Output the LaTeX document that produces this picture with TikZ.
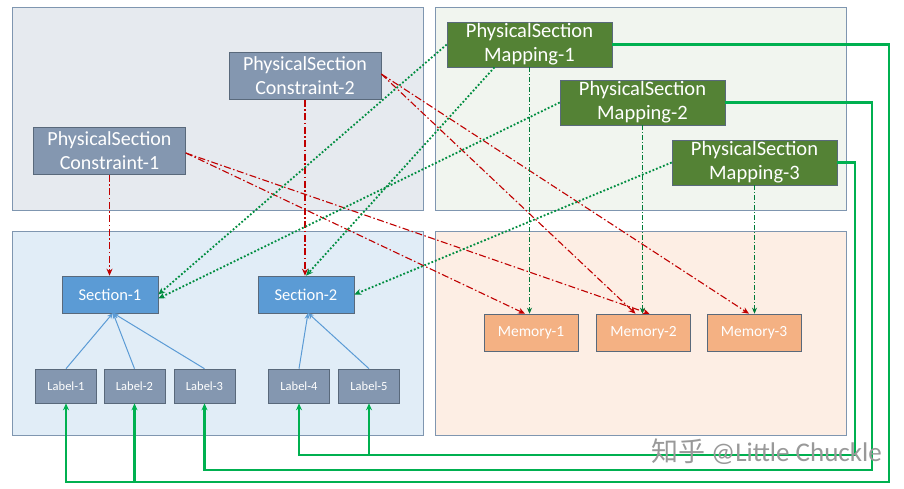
\documentclass[tikz,border=0pt]{standalone}
\usepackage{fontspec}
\setmainfont{Carlito}
\newfontfamily\cjk{Noto Sans CJK SC}
\usetikzlibrary{arrows.meta}
\definecolor{pbord}{HTML}{7F96B0}
\definecolor{gcon}{HTML}{8497B0}
\definecolor{gmap}{HTML}{548235}
\definecolor{bsec}{HTML}{5B9BD5}
\definecolor{omem}{HTML}{F4B183}
\definecolor{glin}{HTML}{00B050}
\definecolor{rlin}{HTML}{C00000}
\begin{document}
\begin{tikzpicture}[x=1pt,y=-1pt,
 panel/.style={draw=pbord,line width=0.8pt},
 box/.style={draw=pbord!70!black,line width=0.6pt,text=white,align=center,inner sep=0pt},
 con/.style={box,fill=gcon,minimum width=152pt,minimum height=47pt,font=\fontsize{20}{24}\selectfont},
 map/.style={box,fill=gmap,minimum width=165pt,minimum height=45pt,font=\fontsize{20.5}{24}\selectfont},
 sec/.style={box,fill=bsec,minimum width=96pt,minimum height=37pt,font=\fontsize{16.5}{18}\selectfont},
 mem/.style={box,fill=omem,minimum width=94pt,minimum height=37pt,font=\fontsize{15.5}{17}\selectfont},
 lab/.style={box,fill=gcon,minimum width=61pt,minimum height=34pt,font=\fontsize{12.5}{14}\selectfont},
 red/.style={rlin,line width=1.1pt,dash pattern=on 7pt off 2.5pt on 1.5pt off 2.5pt,-{Stealth[length=7pt,width=6pt]}},
 gdot/.style={glin!80!black,line width=1.8pt,dotted,-{Stealth[length=7pt,width=6pt]}},
 gdd/.style={glin!70!black,line width=0.7pt,dash pattern=on 5pt off 2pt on 1pt off 2pt,-{Stealth[length=6pt,width=5pt]}},
 gsol/.style={glin,line width=2.2pt},
 blu/.style={bsec,line width=1pt,-{Stealth[open,length=6pt,width=5pt]}}]
\useasboundingbox (0,0) rectangle (904,489);
\fill[white] (0,0) rectangle (904,489);
\draw[panel,fill=gcon!20] (12,7) rectangle (423,210);
\draw[panel,fill=gmap!8] (435,7) rectangle (846,210);
\draw[panel,fill=bsec!18] (12,231) rectangle (423,435);
\draw[panel,fill=omem!22] (435,231) rectangle (846,435);

\node[con] (c1) at (109.5,151) {PhysicalSection\\Constraint-1};
\node[con] (c2) at (305,76) {PhysicalSection\\Constraint-2};
\node[map] (m1) at (529.5,44.5) {PhysicalSection\\Mapping-1};
\node[map] (m2) at (642.5,102.5) {PhysicalSection\\Mapping-2};
\node[map] (m3) at (754.5,162.5) {PhysicalSection\\Mapping-3};
\node[sec] (s1) at (110,294.5) {Section-1};
\node[sec] (s2) at (306,294.5) {Section-2};
\node[mem] (y1) at (531,332.5) {Memory-1};
\node[mem] (y2) at (643.5,332.5) {Memory-2};
\node[mem] (y3) at (754,332.5) {Memory-3};
\node[lab] (l1) at (66,386) {Label-1};
\node[lab] (l2) at (134.5,386) {Label-2};
\node[lab] (l3) at (204.5,386) {Label-3};
\node[lab] (l4) at (299,386) {Label-4};
\node[lab] (l5) at (369,386) {Label-5};

% blue
\draw[blu] (l1.north) -- (113,313);
\draw[blu] (l2.north) -- (113,313);
\draw[blu] (l3.north) -- (113,313);
\draw[blu] (l4.north) -- (308,313);
\draw[blu] (l5.north) -- (308,313);

% red
\draw[red] (c1.south) -- (s1.north -| c1.south);
\draw[red] (c2.south) -- (s2.north -| c2.south);
\draw[red] (c1.east) ++(0,2) -- ([xshift=-6pt]y1.north);
\draw[red] (c1.east) ++(0,2) -- ([xshift=6pt]y2.north);
\draw[red] (c2.east) ++(0,-2) -- ([xshift=-8pt]y2.north);
\draw[red] (c2.east) ++(0,-2) -- ([xshift=-5pt]y3.north);

% green dash-dot
\draw[gdd] (m1.south) -- (y1.north -| m1.south);
\draw[gdd] (m2.south) -- (y2.north -| m2.south);
\draw[gdd] (m3.south) -- (y3.north -| m3.south);

% green dotted
\draw[gdot] (m1.west) -- (s1.east);
\draw[gdot] ([xshift=-35pt]m1.south) -- (s2.north);
\draw[gdot] (m2.west) -- ([yshift=-4pt]s1.east);
\draw[gdot] (m3.west) -- (s2.east);

% green solid
\coordinate (j1) at (134.5,482);
\coordinate (j4) at (369,455);
\draw[gsol] (m1.east) -| (889,482) -- (j1);
\draw[gsol,-{Stealth[length=7pt,width=6pt]}] (j1) -| (l1.south);
\draw[gsol,-{Stealth[length=7pt,width=6pt]}] (j1) -- (l2.south);
\draw[gsol,-{Stealth[length=7pt,width=6pt]}] (m2.east) -| (872,470) -| (l3.south);
\draw[gsol] (m3.east) -| (855,455) -- (j4);
\draw[gsol,-{Stealth[length=7pt,width=6pt]}] (j4) -| (l4.south);
\draw[gsol,-{Stealth[length=7pt,width=6pt]}] (j4) -- (l5.south);

\node[text=black!40,anchor=east,font=\fontsize{27}{29}\selectfont,inner sep=0pt] (wm) at (882,452) {{\cjk 知乎} @Little Chuckle};
\end{tikzpicture}
\end{document}
